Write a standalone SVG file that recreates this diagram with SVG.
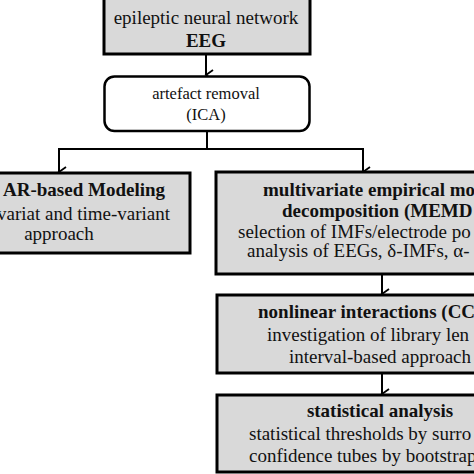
<svg xmlns="http://www.w3.org/2000/svg" width="474" height="474" viewBox="0 0 474 474">
<style>
.box{fill:#d9d9d9;stroke:#000;stroke-width:3}
.rbox{fill:#fff;stroke:#000;stroke-width:2.5}
.t{font-family:"Liberation Serif","Times New Roman",serif;font-size:19px;fill:#111}
.b{font-weight:bold}
.c{text-anchor:middle}
.ln{fill:none;stroke:#000;stroke-width:2}
</style>
<defs>
<marker id="ah" markerWidth="12" markerHeight="12" refX="6" refY="10" orient="auto" markerUnits="userSpaceOnUse" viewBox="0 0 12 12">
<path d="M1,3 L6,10 L11,3" fill="none" stroke="#000" stroke-width="1.8"/>
</marker>
</defs>
<rect width="474" height="474" fill="#fff"/>
<g id="connectors">
<path class="ln" d="M206,55 V75" marker-end="url(#ah)"/>
<path class="ln" d="M207,131 V149 H59 V172" marker-end="url(#ah)"/>
<path class="ln" d="M207,149 H363 V172" marker-end="url(#ah)"/>
<path class="ln" d="M382,274 V294" marker-end="url(#ah)"/>
<path class="ln" d="M382,373 V394" marker-end="url(#ah)"/>
</g>
<g id="eeg">
<rect class="box" x="104" y="-5" width="206" height="59"/>
<text class="t c" x="206" y="24">epileptic neural network</text>
<text class="t b c" x="206" y="47">EEG</text>
</g>
<g id="artefact">
<rect class="rbox" x="104.5" y="76.5" width="205" height="54.5" rx="10"/>
<text class="t c" x="206" y="99" style="font-size:16.5px">artefact removal</text>
<text class="t c" x="206" y="120" style="font-size:16.5px">(ICA)</text>
</g>
<g id="ar">
<rect class="box" x="-72" y="173" width="262" height="80"/>
<text class="t b" x="3" y="196">AR-based Modeling</text>
<text class="t" x="170" y="220" text-anchor="end">variat and time-variant</text>
<text class="t c" x="59" y="240">approach</text>
</g>
<g id="memd">
<rect class="box" x="216" y="172" width="330" height="102"/>
<text class="t b" x="263" y="196">multivariate empirical mo</text>
<text class="t b" x="282" y="217">decomposition (MEMD</text>
<text class="t" x="238" y="238">selection of IMFs/electrode po</text>
<text class="t" x="247" y="257">analysis of EEGs, δ-IMFs, α-</text>
</g>
<g id="ccm">
<rect class="box" x="217" y="295" width="330" height="78"/>
<text class="t b" x="258" y="318">nonlinear interactions (CC</text>
<text class="t" x="267" y="341">investigation of library len</text>
<text class="t" x="289" y="363">interval-based approach</text>
</g>
<g id="stats">
<rect class="box" x="217" y="395" width="330" height="77"/>
<text class="t b c" x="380" y="417">statistical analysis</text>
<text class="t" x="249" y="440">statistical thresholds by surro</text>
<text class="t" x="249" y="462">confidence tubes by bootstrap</text>
</g>
</svg>
